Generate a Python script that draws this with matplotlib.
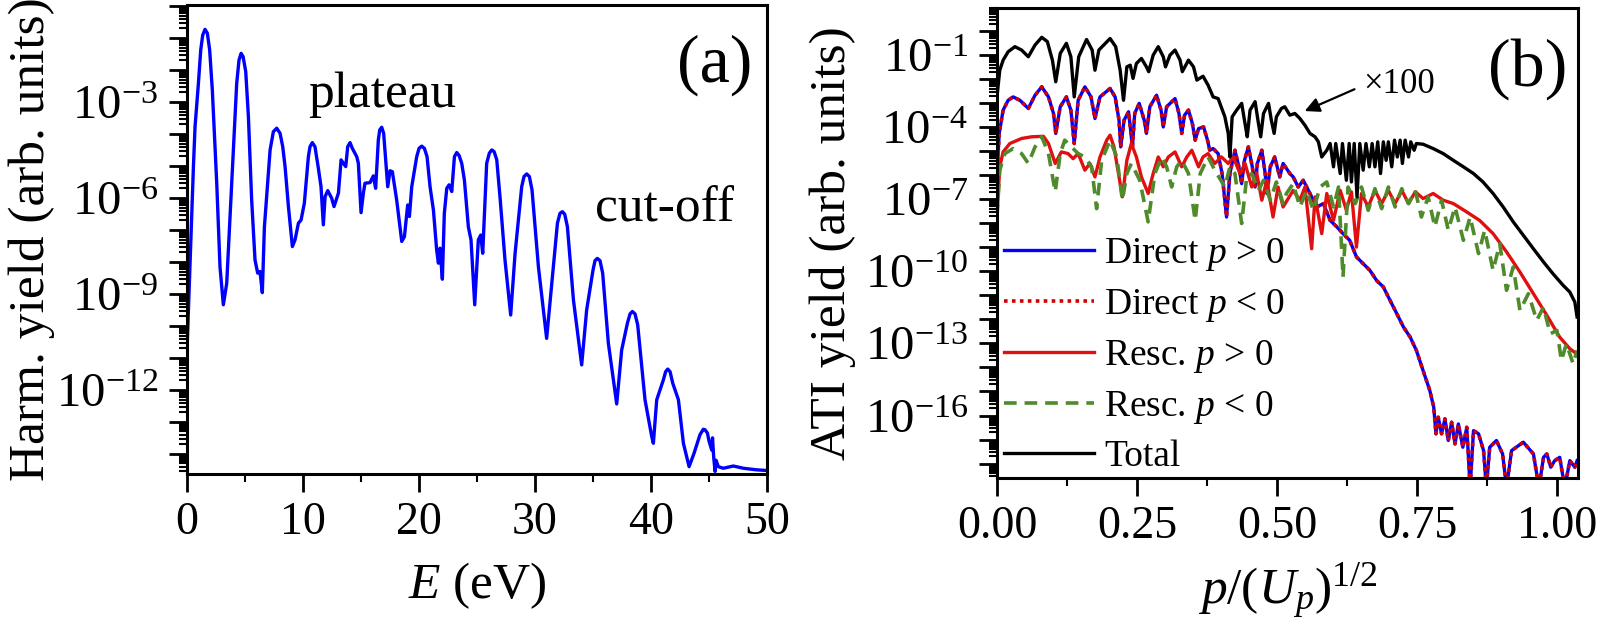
import numpy as np
import matplotlib
matplotlib.use("Agg")
import matplotlib.pyplot as plt
from matplotlib.ticker import LogLocator, FuncFormatter, NullFormatter, MultipleLocator

plt.rcParams['font.family'] = ['Liberation Serif', 'DejaVu Serif']
plt.rcParams['mathtext.fontset'] = 'custom'
plt.rcParams['mathtext.rm'] = 'Liberation Serif'
plt.rcParams['mathtext.it'] = 'Liberation Serif:italic'
plt.rcParams['mathtext.bf'] = 'Liberation Serif:bold'

# (a) harmonic spectrum: photon energy (eV) and log10 of the yield
harm_energy = [
    0.0, 0.55, 0.69, 0.98, 1.18, 1.35, 1.55, 1.75, 1.95, 2.18,
    2.56, 2.84, 3.13, 3.42, 3.85, 4.28, 4.48, 4.66, 4.83, 5.06,
    5.29, 5.57, 5.86, 6.09, 6.29, 6.49, 6.67, 7.01, 7.16, 7.44,
    7.73, 8.02, 8.25, 8.45, 8.74, 9.08, 9.31, 9.60, 9.83, 10.11,
    10.46, 10.6, 10.8, 11.03, 11.32, 11.55, 11.75, 11.90, 12.13, 12.47,
    12.67, 12.90, 13.05, 13.28, 13.48, 13.68, 13.85, 14.05, 14.25, 14.63,
    14.77, 15.0, 15.2, 15.34, 15.78, 16.06, 16.26, 16.49, 16.61, 16.78,
    16.95, 17.30, 17.50, 17.70, 18.07, 18.51, 18.74, 19.02, 19.17, 19.37,
    19.8, 20.0, 20.23, 20.46, 20.69, 20.95, 21.24, 21.52, 21.67, 21.81,
    22.01, 22.18, 22.39, 22.59, 22.82, 23.05, 23.25, 23.45, 23.68, 23.91,
    24.25, 24.48, 24.80, 25.11, 25.32, 25.49, 25.69, 25.83, 26.06, 26.27,
    26.47, 26.7, 27.0, 27.41, 27.90, 28.28, 28.85, 29.05, 29.28, 29.51,
    29.74, 30.29, 31.0, 31.44, 31.93, 32.15, 32.36, 32.56, 32.79, 33.31,
    34.02, 34.45, 35.0, 35.17, 35.37, 35.6, 35.83, 36.32, 37.04, 37.47,
    37.96, 38.19, 38.39, 38.62, 38.85, 39.48, 40.06, 40.2, 40.49, 41.06,
    41.26, 41.44, 41.64, 41.87, 42.36, 42.79, 43.28, 43.71, 44.22, 44.51,
    44.66, 44.86, 45.0, 45.23, 45.3, 45.4, 45.52, 45.6, 45.8, 46.23,
    47.09, 47.96, 49.11, 50.0,
]
harm_log_yield = [
    -10.75, -5.02, -3.77, -2.42, -1.375, -0.91, -0.73, -0.85, -1.375, -2.63,
    -5.54, -8.15, -9.34, -8.67, -5.54, -2.42, -1.69, -1.48, -1.58, -2.05,
    -3.46, -6.06, -7.94, -8.35, -8.30, -8.96, -6.9, -5.23, -4.5, -3.93,
    -3.82, -3.98, -4.4, -5.02, -6.27, -7.52, -7.31, -6.79, -6.69, -6.17,
    -4.71, -4.4, -4.27, -4.4, -5.07, -5.65, -6.84, -5.96, -5.77, -6.01,
    -6.27, -6.01, -5.85, -4.81, -4.92, -5.02, -4.4, -4.27, -4.45, -4.71,
    -4.92, -6.46, -5.85, -5.54, -5.52, -5.31, -5.70, -4.19, -3.875, -3.79,
    -3.98, -5.65, -5.15, -5.18, -6.06, -7.36, -7.21, -6.22, -6.58, -5.65,
    -4.71, -4.45, -4.38, -4.45, -4.71, -5.65, -6.38, -7.63, -8.04, -7.57,
    -8.54, -6.48, -5.70, -5.59, -5.80, -4.71, -4.58, -4.67, -4.92, -5.44,
    -6.9, -7.31, -9.34, -7.31, -7.16, -7.73, -6.06, -4.92, -4.6, -4.5,
    -4.55, -4.81, -6.06, -7.94, -9.66, -7.73, -5.65, -5.33, -5.25, -5.33,
    -5.75, -8.15, -10.39, -8.67, -6.79, -6.48, -6.43, -6.51, -6.9, -9.19,
    -11.22, -9.5, -8.25, -7.96, -7.89, -7.96, -8.35, -10.54, -12.44, -10.75,
    -9.92, -9.625, -9.55, -9.625, -9.97, -12.31, -13.46, -13.67, -12.31, -11.69,
    -11.43, -11.35, -11.43, -11.79, -12.31, -13.67, -14.4, -13.98, -13.4, -13.23,
    -13.25, -13.35, -13.6, -13.88, -13.5, -14.1, -14.55, -14.2, -14.4, -14.45,
    -14.38, -14.45, -14.5, -14.52,
]

# (b) ATI spectra: p/(Up)^(1/2) and log10 of the yield
total_p = [
    0.0, 0.005, 0.011, 0.02, 0.032, 0.044, 0.056, 0.068, 0.080, 0.090, 0.099, 0.105, 0.113,
    0.124, 0.132, 0.138, 0.146, 0.160, 0.170, 0.175, 0.182, 0.202, 0.212, 0.22, 0.226, 0.232,
    0.238, 0.243, 0.249, 0.258, 0.267, 0.271, 0.279, 0.288, 0.297, 0.301, 0.309, 0.318, 0.327,
    0.331, 0.342, 0.351, 0.357, 0.368, 0.377, 0.386, 0.395, 0.407, 0.413, 0.416, 0.420, 0.428,
    0.437, 0.444, 0.447, 0.452, 0.461, 0.467, 0.471, 0.476, 0.485, 0.490, 0.495, 0.499, 0.508,
    0.514, 0.523, 0.532, 0.541, 0.55, 0.559, 0.568, 0.574, 0.58, 0.589, 0.595, 0.601, 0.605,
    0.613, 0.617, 0.624, 0.629, 0.633, 0.638, 0.643, 0.648, 0.654, 0.659, 0.665, 0.670, 0.675,
    0.680, 0.685, 0.690, 0.695, 0.699, 0.705, 0.710, 0.715, 0.720, 0.724, 0.729, 0.735, 0.739,
    0.745, 0.749, 0.761, 0.779, 0.797, 0.815, 0.833, 0.851, 0.868, 0.886, 0.904, 0.922, 0.940,
    0.958, 0.976, 0.993, 1.011, 1.023, 1.032, 1.036,
]
total_log = [
    -2.74, -1.63, -1.21, -0.86, -0.65, -0.79, -1.07, -0.58, -0.26, -0.44, -1.21, -2.11, -0.93,
    -0.51, -1.07, -2.74, -1.07, -0.35, -0.79, -1.63, -0.79, -0.31, -0.65, -1.63, -2.88, -1.49,
    -1.42, -1.97, -1.35, -1.14, -1.49, -1.69, -1.0, -0.65, -1.07, -1.49, -1.0, -0.79, -1.21,
    -1.69, -1.21, -1.49, -2.04, -1.88, -2.25, -2.74, -2.81, -3.57, -4.26, -5.24, -3.57, -3.29,
    -3.01, -3.99, -4.40, -3.29, -2.94, -3.85, -4.40, -3.43, -3.01, -3.71, -4.26, -3.57, -3.22,
    -3.15, -3.5, -3.43, -3.64, -3.92, -4.26, -4.40, -4.61, -5.24, -4.96, -4.68, -5.65, -4.68,
    -5.93, -4.68, -6.21, -4.68, -6.28, -4.68, -6.90, -4.68, -5.79, -4.68, -5.65, -4.68, -5.65,
    -4.61, -5.93, -4.61, -5.38, -4.61, -5.65, -4.54, -5.24, -4.54, -5.51, -4.54, -5.24, -4.61,
    -4.96, -4.68, -4.71, -4.89, -5.10, -5.38, -5.65, -5.93, -6.28, -6.76, -7.32, -7.94, -8.5,
    -9.06, -9.61, -10.1, -10.58, -10.86, -11.28, -11.9,
]

direct_p = [
    0.0, 0.004, 0.011, 0.020, 0.029, 0.041, 0.056, 0.068, 0.080, 0.092, 0.101, 0.105, 0.113,
    0.124, 0.132, 0.138, 0.145, 0.157, 0.168, 0.175, 0.184, 0.202, 0.211, 0.218, 0.221, 0.227,
    0.235, 0.242, 0.246, 0.254, 0.263, 0.267, 0.273, 0.285, 0.293, 0.297, 0.303, 0.318, 0.325,
    0.330, 0.335, 0.342, 0.349, 0.354, 0.360, 0.369, 0.376, 0.380, 0.386, 0.395, 0.402, 0.410,
    0.416, 0.425, 0.432, 0.437, 0.442, 0.449, 0.456, 0.461, 0.465, 0.473, 0.479, 0.482, 0.488,
    0.496, 0.505, 0.511, 0.523, 0.529, 0.538, 0.547, 0.559, 0.571, 0.583, 0.595, 0.607, 0.618,
    0.630, 0.642, 0.654, 0.666, 0.678, 0.690, 0.702, 0.714, 0.726, 0.738, 0.749, 0.761, 0.773,
    0.780, 0.784, 0.788, 0.794, 0.800, 0.806, 0.812, 0.818, 0.824, 0.832, 0.839, 0.845, 0.851,
    0.860, 0.869, 0.874, 0.880, 0.892, 0.903, 0.910, 0.919, 0.940, 0.958, 0.968, 0.976, 0.982,
    0.989, 0.996, 1.005, 1.014, 1.023, 1.032, 1.036,
]
direct_log = [
    -6.07, -4.26, -3.29, -2.88, -2.74, -2.88, -3.22, -2.67, -2.32, -2.74, -3.43, -4.26, -3.15,
    -2.74, -3.29, -4.68, -2.88, -2.32, -2.74, -3.64, -2.74, -2.39, -2.74, -3.71, -4.82, -3.71,
    -3.36, -4.82, -3.43, -3.01, -3.71, -4.26, -3.15, -2.67, -3.29, -3.99, -3.15, -2.81, -3.43,
    -4.26, -3.5, -3.29, -3.85, -4.54, -4.06, -3.99, -4.54, -4.96, -4.89, -5.1, -5.93, -7.74,
    -5.93, -4.96, -5.65, -6.35, -5.38, -4.82, -5.65, -6.49, -5.51, -4.96, -5.93, -6.76, -5.65,
    -5.24, -6.07, -5.51, -5.93, -6.07, -6.49, -6.21, -6.76, -7.32, -7.18, -7.88, -8.15, -8.43,
    -8.71, -9.40, -9.68, -9.96, -10.38, -10.65, -11.21, -11.76, -12.32, -12.74, -13.29, -14.13,
    -14.96, -15.65, -16.76, -16.07, -16.76, -16.14, -17.04, -16.28, -17.18, -16.35, -17.32,
    -16.49, -19.0, -16.63, -16.76, -17.46, -19.0, -17.32, -17.04, -17.6, -19.0, -17.46, -17.11,
    -17.6, -19.0, -17.74, -17.6, -18.15, -17.88, -17.74, -19.0, -17.88, -18.15, -17.88,
]

resc_pos_p = [
    0.0, 0.005, 0.011, 0.023, 0.044, 0.062, 0.083, 0.092, 0.104, 0.115, 0.127, 0.136, 0.145,
    0.157, 0.166, 0.175, 0.184, 0.196, 0.202, 0.209, 0.217, 0.224, 0.232, 0.240, 0.249, 0.258,
    0.270, 0.279, 0.288, 0.297, 0.306, 0.318, 0.330, 0.339, 0.348, 0.360, 0.368, 0.377, 0.389,
    0.401, 0.413, 0.422, 0.434, 0.443, 0.455, 0.464, 0.473, 0.482, 0.493, 0.502, 0.511, 0.529,
    0.541, 0.550, 0.562, 0.568, 0.580, 0.589, 0.601, 0.613, 0.624, 0.633, 0.642, 0.651, 0.663,
    0.675, 0.687, 0.699, 0.711, 0.723, 0.735, 0.747, 0.761, 0.779, 0.797, 0.815, 0.839, 0.862,
    0.886, 0.910, 0.934, 0.958, 0.982, 1.005, 1.023, 1.035,
]
resc_pos_log = [
    -7.74, -5.65, -5.03, -4.68, -4.47, -4.4, -4.38, -4.68, -5.51, -5.03, -5.10, -5.31, -5.10,
    -5.79, -5.51, -6.07, -5.24, -4.54, -4.33, -4.82, -5.93, -6.9, -5.38, -4.68, -5.24, -6.07,
    -6.76, -5.93, -5.24, -5.65, -5.24, -5.03, -5.65, -5.24, -4.96, -5.65, -5.24, -5.10, -5.51,
    -5.24, -5.51, -5.24, -5.93, -5.51, -6.49, -5.93, -7.04, -6.21, -7.74, -6.49, -7.32, -6.63,
    -7.04, -6.49, -9.06, -6.90, -8.43, -6.76, -7.88, -6.63, -7.46, -6.69, -8.99, -6.76, -7.32,
    -6.63, -7.18, -6.63, -7.18, -6.63, -7.18, -6.69, -6.97, -6.76, -7.04, -7.18, -7.53, -7.88,
    -8.43, -9.19, -10.03, -10.93, -11.83, -12.74, -13.22, -13.43,
]

resc_neg_p = [
    0.0, 0.005, 0.014, 0.029, 0.044, 0.056, 0.068, 0.080, 0.092, 0.104, 0.113, 0.121, 0.133,
    0.145, 0.157, 0.169, 0.178, 0.187, 0.202, 0.214, 0.224, 0.232, 0.240, 0.255, 0.270, 0.282,
    0.294, 0.303, 0.312, 0.321, 0.330, 0.342, 0.354, 0.363, 0.377, 0.389, 0.407, 0.416, 0.425,
    0.437, 0.446, 0.455, 0.467, 0.476, 0.488, 0.499, 0.511, 0.517, 0.529, 0.541, 0.553, 0.565,
    0.577, 0.589, 0.601, 0.610, 0.618, 0.627, 0.640, 0.651, 0.663, 0.675, 0.687, 0.699, 0.711,
    0.723, 0.735, 0.747, 0.758, 0.770, 0.782, 0.794, 0.806, 0.818, 0.833, 0.845, 0.860, 0.871,
    0.886, 0.898, 0.910, 0.922, 0.934, 0.949, 0.964, 0.976, 0.988, 1.0, 1.008, 1.017, 1.029,
    1.036,
]
resc_neg_log = [
    -7.74, -5.79, -5.10, -4.89, -5.10, -5.51, -4.82, -4.40, -5.10, -6.69, -5.10, -4.54, -4.82,
    -5.10, -5.24, -5.65, -7.39, -5.38, -4.54, -5.24, -7.04, -5.93, -5.51, -6.21, -7.94, -5.93,
    -5.24, -5.65, -6.49, -5.65, -5.38, -5.93, -7.88, -5.93, -5.24, -5.79, -6.49, -5.65, -5.93,
    -8.01, -6.07, -5.93, -6.63, -6.21, -7.04, -6.28, -7.18, -6.76, -6.35, -7.32, -6.63, -7.46,
    -6.49, -6.28, -7.32, -6.49, -10.24, -6.49, -7.18, -6.49, -7.46, -6.56, -7.39, -6.49, -7.32,
    -6.56, -7.18, -6.63, -7.74, -6.90, -8.15, -7.04, -8.29, -7.32, -8.71, -7.74, -9.26, -8.29,
    -9.96, -8.85, -10.79, -9.82, -11.63, -10.93, -12.04, -11.49, -12.6, -12.46, -13.71, -13.01,
    -13.85, -13.29,
]

labels_b = [r'Direct $p$ > 0', r'Direct $p$ < 0', r'Resc. $p$ > 0', r'Resc. $p$ < 0', 'Total']


def decade_formatter(shown):
    def fmt(v, pos):
        e = int(round(np.log10(v)))
        return r'$10^{%d}$' % e if e in shown else ''
    return FuncFormatter(fmt)


def style_axes(ax, shown, xminor):
    ax.set_yscale('log')
    ax.yaxis.set_major_locator(LogLocator(base=10, subs=(1.0,), numticks=100))
    ax.yaxis.set_minor_locator(LogLocator(base=10, subs=np.arange(2, 10), numticks=100))
    ax.yaxis.set_major_formatter(decade_formatter(shown))
    ax.yaxis.set_minor_formatter(NullFormatter())
    ax.xaxis.set_minor_locator(MultipleLocator(xminor))
    ax.tick_params(which='both', direction='out', top=False, right=False)
    ax.tick_params(axis='x', labelsize=33, pad=7)
    ax.tick_params(axis='y', labelsize=35, pad=8)
    ax.tick_params(which='major', length=13, width=2)
    ax.tick_params(which='minor', length=6, width=1.5)
    for s in ax.spines.values():
        s.set_linewidth(2.2)


fig = plt.figure(figsize=(16, 6.3), dpi=100)
ax1 = fig.add_axes([0.1169, 0.2476, 0.3625, 0.7444])
ax2 = fig.add_axes([0.6231, 0.2413, 0.3631, 0.7460])

# panel (a)
ax1.plot(harm_energy, 10.0 ** np.array(harm_log_yield), color='#0000ff', lw=2.4)
style_axes(ax1, {-3, -6, -9, -12}, 5)
ax1.set_xlim(0, 50)
ax1.set_ylim(10 ** -14.63, 10 ** 0.03)
ax1.set_xticks([0, 10, 20, 30, 40, 50])
ax1.set_xlabel(r'$E$ (eV)', fontsize=37)
ax1.set_ylabel('Harm. yield (arb. units)', fontsize=37)
ax1.xaxis.set_label_coords(0.5, -0.185)
ax1.yaxis.set_label_coords(-0.228, 0.5)
ax1.text(10.43, 10 ** -3.16, 'plateau', fontsize=37, va='baseline')
ax1.text(35.17, 10 ** -6.75, 'cut-off', fontsize=37, va='baseline')
ax1.text(0.845, 0.836, '(a)', fontsize=49, va='baseline', transform=ax1.transAxes)

# panel (b)
h1, = ax2.plot(direct_p, 10.0 ** np.array(direct_log), color='#0000ff', lw=2.4)
h2, = ax2.plot(direct_p, 10.0 ** np.array(direct_log), color='#d40000', lw=2.6, ls=(0, (1, 1.2)))
h3, = ax2.plot(resc_pos_p, 10.0 ** np.array(resc_pos_log), color='#e01010', lw=2.4)
h4, = ax2.plot(resc_neg_p, 10.0 ** np.array(resc_neg_log), color='#4f8a2b', lw=2.6, ls=(0, (3.5, 2.2)))
h5, = ax2.plot(total_p, 10.0 ** np.array(total_log), color='black', lw=2.4)
style_axes(ax2, {-1, -4, -7, -10, -13, -16}, 0.125)
ax2.set_xlim(0, 1.0375)
ax2.set_ylim(10 ** -18.6, 10 ** 0.96)
ax2.set_xticks([0, 0.25, 0.5, 0.75, 1.0])
ax2.set_xticklabels(['0.00', '0.25', '0.50', '0.75', '1.00'])
ax2.set_xlabel(r'$p/(U_p)^{1/2}$', fontsize=37)
ax2.set_ylabel('ATI yield (arb. units)', fontsize=37)
ax2.xaxis.set_label_coords(0.5, -0.178)
ax2.yaxis.set_label_coords(-0.243, 0.5)
ax2.text(0.845, 0.836, '(b)', fontsize=49, va='baseline', transform=ax2.transAxes)
ax2.annotate('', xy=(0.545, 10 ** -3.375), xytext=(0.643, 10 ** -2.375),
             arrowprops=dict(arrowstyle='-|>', color='black', lw=1.6, mutation_scale=22))
ax2.text(0.654, 10 ** -2.58, '\u00d7100', fontsize=25, va='baseline')

ax2.legend([h1, h2, h3, h4, h5], labels_b, loc='upper left', bbox_to_anchor=(0.0, 0.53),
           frameon=False, fontsize=27, handlelength=2.4, handletextpad=0.25,
           labelspacing=0.37, borderpad=0.0, borderaxespad=0.2)

fig.savefig('out.png', dpi=100)
